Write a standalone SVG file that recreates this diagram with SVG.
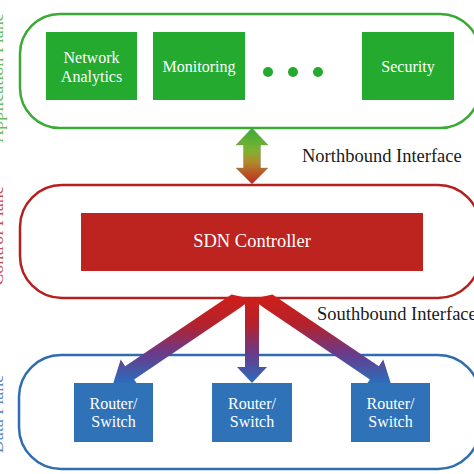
<svg xmlns="http://www.w3.org/2000/svg" width="474" height="474" viewBox="0 0 474 474">
<style>
.lbl{font-family:"Liberation Serif","Times New Roman",serif;fill:#fff;text-anchor:middle}
.side{font-family:"Liberation Serif","Times New Roman",serif;font-size:18px;text-anchor:middle;fill-opacity:0.8}
.ifc{font-family:"Liberation Serif","Times New Roman",serif;font-size:18.5px;fill:#1a1a1a}
.gbox{fill:#23aa2f}
.bbox{fill:#2f72b8}
</style>
<defs>
<linearGradient id="nb" gradientUnits="userSpaceOnUse" x1="0" y1="128" x2="0" y2="184">
<stop offset="0" stop-color="#35ad33"/>
<stop offset="0.4" stop-color="#7fb232"/>
<stop offset="0.6" stop-color="#b08a2c"/>
<stop offset="1" stop-color="#c2261f"/>
</linearGradient>
<linearGradient id="sb" gradientUnits="userSpaceOnUse" x1="0" y1="300" x2="0" y2="382">
<stop offset="0" stop-color="#cc1f1c"/>
<stop offset="0.3" stop-color="#b4222c"/>
<stop offset="0.65" stop-color="#6a3a8a"/>
<stop offset="1" stop-color="#2c6cba"/>
</linearGradient>
</defs>
<g id="side-labels">
<text class="side" fill="#3aaa35" transform="translate(2.5,78) rotate(-90)">Application Plane</text>
<text class="side" fill="#b5201e" transform="translate(2.5,236) rotate(-90)">Control Plane</text>
<text class="side" fill="#2f6cb0" transform="translate(2.5,414) rotate(-90)">Data Plane</text>
</g>
<g id="application-plane">
<rect x="20" y="14" width="460" height="114" rx="40" fill="none" stroke="#3aaa35" stroke-width="2.5"/>
</g>
<g id="control-plane">
<rect x="20" y="185" width="460" height="113" rx="42" fill="none" stroke="#b5201e" stroke-width="2.5"/>
</g>
<g id="data-plane">
<rect x="19" y="355" width="461" height="114" rx="42" fill="none" stroke="#2f6cb0" stroke-width="2.5"/>
</g>
<g id="connectors">
<polygon points="252,128 268,145 260.5,145 260.5,168 268,168 252,184 236,168 243.5,168 243.5,145 236,145" fill="url(#nb)" stroke="#7a7a6a" stroke-width="0.6" stroke-opacity="0.6"/>
<polygon points="245,300 252,297 259,300 259,367 267,367 252,383 237,367 245,367" fill="url(#sb)"/>
<polygon points="231.5,294.4 252,299 240.5,307.6 134.1,379.4 138.5,386.1 113,384 120.7,359.5 125.1,366.2" fill="url(#sb)"/>
<polygon points="272.5,294.4 252,299 263.5,307.6 369.9,379.4 365.5,386.1 391,384 383.3,359.5 378.9,366.2" fill="url(#sb)"/>
</g>
<g id="network-analytics">
<rect class="gbox" x="46" y="32" width="91" height="68"/>
<text class="lbl" x="91.5" y="62.5" font-size="16">Network</text>
<text class="lbl" x="91.5" y="81.5" font-size="16">Analytics</text>
</g>
<g id="monitoring">
<rect class="gbox" x="153" y="32" width="92" height="68"/>
<text class="lbl" x="199" y="72.3" font-size="16">Monitoring</text>
</g>
<g id="ellipsis">
<circle cx="268" cy="72" r="5" fill="#23aa2f"/>
<circle cx="293" cy="72" r="5" fill="#23aa2f"/>
<circle cx="318" cy="72" r="5" fill="#23aa2f"/>
</g>
<g id="security">
<rect class="gbox" x="362" y="32" width="92" height="68"/>
<text class="lbl" x="408" y="72.3" font-size="16">Security</text>
</g>
<g id="sdn-controller">
<rect x="81" y="213" width="342" height="58" fill="#bd231f"/>
<text class="lbl" x="252" y="247.3" font-size="18.5">SDN Controller</text>
</g>
<g id="router-switch-1">
<rect class="bbox" x="74" y="383" width="79" height="59"/>
<text class="lbl" x="113.5" y="409" font-size="16">Router/</text>
<text class="lbl" x="113.5" y="427" font-size="16">Switch</text>
</g>
<g id="router-switch-2">
<rect class="bbox" x="212" y="383" width="80" height="59"/>
<text class="lbl" x="252" y="409" font-size="16">Router/</text>
<text class="lbl" x="252" y="427" font-size="16">Switch</text>
</g>
<g id="router-switch-3">
<rect class="bbox" x="351" y="383" width="79" height="59"/>
<text class="lbl" x="390.5" y="409" font-size="16">Router/</text>
<text class="lbl" x="390.5" y="427" font-size="16">Switch</text>
</g>
<g id="interface-labels">
<text class="ifc" x="302" y="162">Northbound Interface</text>
<text class="ifc" x="317" y="320">Southbound Interface</text>
</g>
</svg>
